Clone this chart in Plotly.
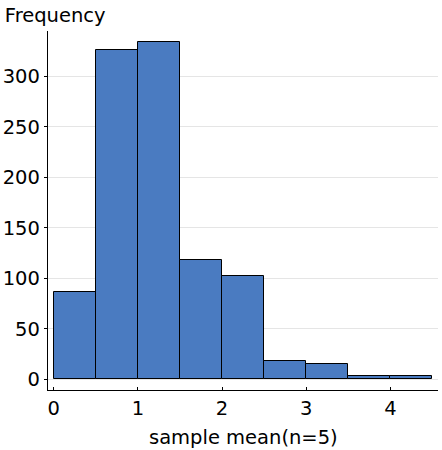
import plotly.graph_objects as go

# histogram of sample means (n=5), bins of width 0.5
bin_left = [0.0, 0.5, 1.0, 1.5, 2.0, 2.5, 3.0, 3.5, 4.0]
bin_width = 0.5
counts = [86, 326, 334, 118, 102, 18, 15, 3, 3]
y_ticks = [0, 50, 100, 150, 200, 250, 300]
x_ticks = [0, 1, 2, 3, 4]

centers = [b + bin_width / 2 for b in bin_left]

fig = go.Figure(go.Bar(
    x=centers,
    y=counts,
    width=bin_width,
    marker=dict(color='#4a7bc1', line=dict(color='black', width=1)),
))

fig.update_layout(
    width=442, height=450,
    margin=dict(l=48, r=4, t=31, b=60),
    plot_bgcolor='white', paper_bgcolor='white',
    font=dict(family='DejaVu Sans', size=19.5, color='black'),
    showlegend=False,
    bargap=0,
    title=dict(text='Frequency', x=0.011, xanchor='left', y=1 - 15 / 450, yanchor='middle',
               font=dict(size=19.5)),
    annotations=[dict(text='sample mean(n=5)', xref='paper', yref='paper', x=0.5, y=0,
                      xanchor='center', yanchor='middle', yshift=-47, showarrow=False,
                      font=dict(size=19.5))],
)

fig.update_xaxes(
    range=[-0.068, 4.566], tickvals=x_ticks,
    showline=True, linecolor='black', linewidth=1.3,
    ticks='inside', ticklen=3, tickcolor='black',
    showgrid=False, zeroline=False,
)
fig.update_yaxes(
    range=[-10.6, 345], tickvals=y_ticks,
    showline=True, linecolor='black', linewidth=1.3,
    ticks='outside', ticklen=3, tickcolor='black',
    showgrid=True, gridcolor='#e5e5e5', gridwidth=1, zeroline=False,
)

# the page's default body margin would shift the figure by 8px
fig.write_html("out.html", config={'displayModeBar': False},
               post_script="document.body.style.margin='0';")
